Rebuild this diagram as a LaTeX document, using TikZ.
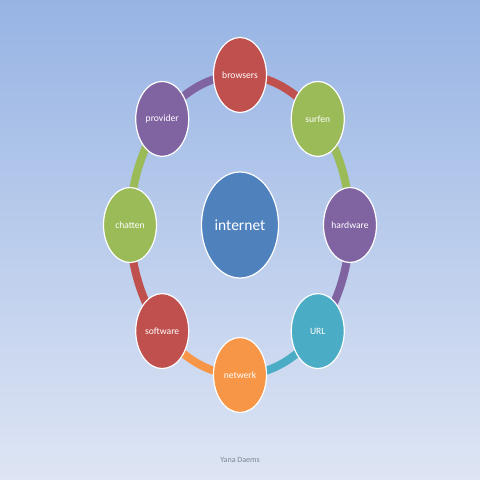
\documentclass[tikz,border=0pt]{standalone}
\usepackage{fontspec}
\setmainfont{Carlito}
\usetikzlibrary{shapes.geometric}
\definecolor{bgtop}{RGB}{151,180,228}
\definecolor{bgbottom}{RGB}{222,229,244}
\definecolor{topicred}{RGB}{192,80,77}
\definecolor{topicgreen}{RGB}{155,187,89}
\definecolor{topicpurple}{RGB}{128,100,162}
\definecolor{topicteal}{RGB}{75,172,198}
\definecolor{topicorange}{RGB}{247,150,70}
\definecolor{topicblue}{RGB}{79,129,189}
\definecolor{namegray}{RGB}{125,132,150}
\pgfdeclarelayer{back}
\pgfsetlayers{back,main}
\tikzset{
	topic/.style={ellipse, draw=white, line width=1.2pt, text=white, inner sep=0pt,
		minimum width=53pt, minimum height=75pt, font=\fontsize{9.6}{11}\selectfont},
	ring/.style={line width=8pt},
}
\begin{document}
\begin{tikzpicture}[x=1pt, y=1pt]
	% Centre and the topics round it
	\node[topic, fill=topicblue, minimum width=77pt, minimum height=106pt,
		font=\fontsize{15.5}{18}\selectfont] (internet) at (0, 0) {internet};
	\node[topic, fill=topicred] (browsers) at (0, 150) {browsers};
	\node[topic, fill=topicgreen] (surfen) at (77.78, 106.07) {surfen};
	\node[topic, fill=topicpurple] (hardware) at (110, 0) {hardware};
	\node[topic, fill=topicteal] (url) at (77.78, -106.07) {URL};
	\node[topic, fill=topicorange] (netwerk) at (0, -150) {netwerk};
	\node[topic, fill=topicred] (software) at (-77.78, -106.07) {software};
	\node[topic, fill=topicgreen] (chatten) at (-110, 0) {chatten};
	\node[topic, fill=topicpurple] (provider) at (-77.78, 106.07) {provider};

	\node[text=namegray, font=\fontsize{8}{10}\selectfont] (name) at (0, -235) {Yana Daems};

	\begin{pgfonlayer}{back}
		% background
		\shade[top color=bgtop, bottom color=bgbottom] (-240, -255) rectangle (240, 225);
		% ring pieces, each in the colour of the topic it leaves
		\draw[ring, topicred] (browsers.center) arc[start angle=90, end angle=45, x radius=110, y radius=150];
		\draw[ring, topicgreen] (surfen.center) arc[start angle=45, end angle=0, x radius=110, y radius=150];
		\draw[ring, topicpurple] (hardware.center) arc[start angle=0, end angle=-45, x radius=110, y radius=150];
		\draw[ring, topicteal] (url.center) arc[start angle=-45, end angle=-90, x radius=110, y radius=150];
		\draw[ring, topicorange] (netwerk.center) arc[start angle=-90, end angle=-135, x radius=110, y radius=150];
		\draw[ring, topicred] (software.center) arc[start angle=-135, end angle=-180, x radius=110, y radius=150];
		\draw[ring, topicgreen] (chatten.center) arc[start angle=180, end angle=135, x radius=110, y radius=150];
		\draw[ring, topicpurple] (provider.center) arc[start angle=135, end angle=90, x radius=110, y radius=150];
	\end{pgfonlayer}
\end{tikzpicture}
\end{document}
